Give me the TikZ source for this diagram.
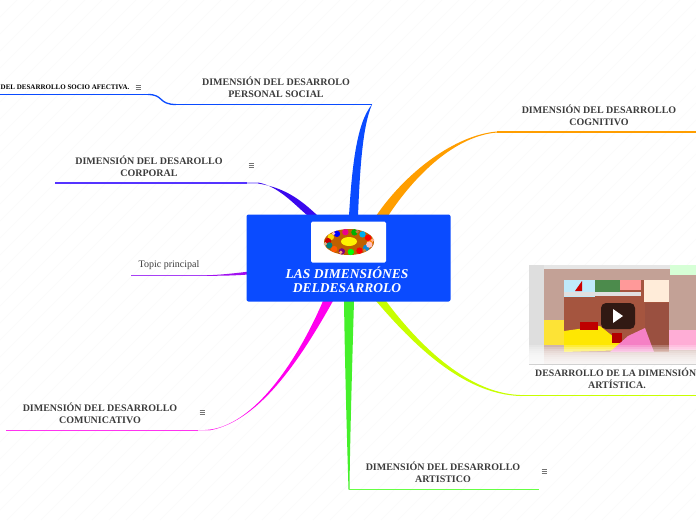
\documentclass[tikz,border=0pt]{standalone}
\usepackage{fontspec}
\setmainfont{Liberation Serif}
\usetikzlibrary{calc,shapes.geometric}
\definecolor{cblue}{HTML}{0A4BFF}
\definecolor{corange}{HTML}{FF9E00}
\definecolor{cindigo}{HTML}{3A08EE}
\definecolor{cindline}{HTML}{5533FF}
\definecolor{cpurple}{HTML}{A010F0}
\definecolor{cpurline}{HTML}{A840F5}
\definecolor{cmag}{HTML}{FF00EE}
\definecolor{cmagline}{HTML}{FF33F0}
\definecolor{cgreen}{HTML}{44F02A}
\definecolor{cgreenline}{HTML}{66FF44}
\definecolor{cyg}{HTML}{C8FF00}
\definecolor{ctext}{HTML}{3C3C3C}
\definecolor{cstripe}{HTML}{FBFBFB}
\definecolor{cwall}{HTML}{B58A7C}
\definecolor{cbrick}{HTML}{A5553F}
\definecolor{cdark}{HTML}{9A5040}
\tikzset{
  lab/.style={font=\bfseries\fontsize{10}{11.8}\selectfont,text=ctext,align=center,inner sep=0pt},
  plainlab/.style={font=\fontsize{10}{12}\selectfont,text=ctext,align=center,inner sep=0pt},
  title/.style={font=\bfseries\itshape\fontsize{13.5}{14.5}\selectfont,text=white,align=center,inner sep=0pt},
  leg/.style={line width=1.3pt},
  menuicon/.pic={\draw[black!55,line width=.55pt] (-2.5,-2) -- (2.5,-2) (-2.5,0) -- (2.5,0) (-2.5,2) -- (2.5,2);}
}
\begin{document}
\begin{tikzpicture}[x=1pt,y=-1pt]
\useasboundingbox (0,0) rectangle (696,520);
\fill[white] (0,0) rectangle (696,520);
\begin{scope}
\clip (0,0) rectangle (696,520);
\foreach \i in {0,17,...,1240}{\draw[cstripe,line width=.8pt] (\i,0) -- (\i-520,520);}
\end{scope}
% anchors
\coordinate (pUp) at (372,104.5); \coordinate (pUpL) at (176,104.5);
\coordinate (pSoc) at (148,94.5); \coordinate (pSocEnd) at (0,94.5);
\coordinate (oEnd) at (696,132); \coordinate (oKnee) at (497,132);
\coordinate (iEnd) at (55,183); \coordinate (iKnee) at (247,183); \coordinate (iTip) at (258,183);
\coordinate (tEnd) at (131,275.5); \coordinate (tKnee) at (207,275.5);
\coordinate (mEnd) at (6,430.5); \coordinate (mKnee) at (198,430.5); \coordinate (mTip) at (210,430.5);
\coordinate (gEnd) at (539,489.5); \coordinate (gKnee) at (349,489.5);
\coordinate (yEnd) at (696,395.5); \coordinate (yKnee) at (520,395.5);
% tapered branches
\fill[cblue] (349,216) .. controls (352,165) and (357,122) .. (372,104.5) .. controls (363,125) and (360,165) .. (358,216) -- cycle;
\draw[cblue,leg] (pUp) -- (pUpL);
\draw[cblue,leg] (pUpL) .. controls (158,104.5) and (164,94.5) .. (pSoc);
\draw[cblue,leg] (pSoc) -- (pSocEnd);
\fill[corange] (376,216) .. controls (406,172) and (455,135) .. (497,131.5) -- (497,132.5) .. controls (455,136) and (415,175) .. (388,216) -- cycle;
\draw[corange,leg] (oKnee) -- (oEnd);
\fill[cindigo] (308,216) .. controls (294,204) and (278,186) .. (258,182.5) -- (258,183.5) .. controls (287,188) and (303,202) .. (318,216) -- cycle;
\draw[cindline,leg] (iEnd) -- (iKnee);
\draw[cindline!35,leg] (iKnee) -- (iTip);
\fill[cpurple] (247,271.8) -- (247,274.6) .. controls (230,275.8) and (215,275.8) .. (205,275.8) -- (205,275.3) .. controls (220,275) and (235,273.2) .. cycle;
\draw[cpurline,leg] (tEnd) -- (tKnee);
\fill[cmag] (323,301) .. controls (300,355) and (255,428) .. (205,430) -- (205,431) .. controls (258,425) and (301,358) .. (333,301) -- cycle;
\draw[cmagline,leg] (mEnd) -- (mKnee);
\draw[cmagline!30,leg] (mKnee) -- (mTip);
\fill[cgreen] (344,301) .. controls (345,370) and (347,440) .. (348.5,489.5) -- (349.5,489.5) .. controls (350,440) and (352,370) .. (354,301) -- cycle;
\draw[cgreenline,leg] (gKnee) -- (gEnd);
\fill[cyg] (376,301) .. controls (412,343) and (462,394) .. (520,396) -- (520,395) .. controls (465,393) and (415,340) .. (386,301) -- cycle;
\draw[cyg,leg] (yKnee) -- (yEnd);
% centre box
\node[fill=cblue,rounded corners=2pt,minimum width=204pt,minimum height=87pt,inner sep=0pt] (centre) at (348.5,258) {};
\node[fill=white,rounded corners=1.5pt,minimum width=75pt,minimum height=41pt,inner sep=0pt] (thumb) at (348.5,242) {};
\fill[black!25!orange] (349,242) ellipse (25pt and 13pt);
\foreach \a/\c in {0/orange,25/red,50/cyan,75/green!70!black,100/magenta,125/blue,150/yellow!80!orange,175/red!80!black,200/teal,225/orange!70!red,250/violet,275/green,300/red,325/cyan!70!blue,345/pink}{
  \fill[\c] ($(349,242)+(\a:21pt and 10pt)$) circle (3.2pt);
}
\foreach \a/\c in {10/pink!70!orange,70/brown,130/pink,190/brown!60!white,250/pink!60!orange,310/brown}{
  \fill[\c] ($(349,242)+(\a:24pt and 11pt)$) circle (1.8pt);
}
\fill[yellow] (349,241.5) ellipse (8pt and 4.5pt);
\node[title] (ttl) at (347,280) {LAS DIMENSIÓNES\\DELDESARROLO};
% photo
\begin{scope}
\clip (529,265) rectangle (696,364);
\fill[black!13] (529,265) rectangle (544,364);
\fill[cwall] (544,265) rectangle (696,364);
\fill[black!12] (544,265) rectangle (696,269);
\fill[white!80!green] (670,265) rectangle (696,275);
\fill[yellow!80!orange] (544,320) rectangle (564,345);
\fill[pink!80!magenta] (669,330) rectangle (696,350);
\fill[white,opacity=.2] (544,265) rectangle (696,364);
\fill[cbrick] (564,280) rectangle (669,352);
\fill[cyan!25!white] (564,280) rectangle (595,297);
\fill[red!80!black] (575,291) -- (582,281) -- (582,291) -- cycle;
\fill[green!35!black!70!white] (595,280) rectangle (620,292);
\fill[pink!80!red] (620,280) rectangle (641,290);
\fill[black!12] (564,292) rectangle (641,296);
\fill[white!85!orange] (644,280) rectangle (669,302);
\fill[cdark] (645,303) rectangle (669,350);
\fill[yellow!90!orange] (564,331) -- (600,326) -- (630,350) -- (564,352) -- cycle;
\fill[red!75!black] (580,322) rectangle (598,330);
\fill[red!70!black] (612,333) rectangle (622,343);
\fill[magenta!50!white] (610,352) -- (628,336) -- (645,328) -- (654,352) -- cycle;
\fill[black!70!cbrick,rounded corners=5pt] (601,303) rectangle (635,329);
\fill[white] (613,309) -- (623,316) -- (613,323) -- cycle;
\foreach \i in {0,...,9}{\fill[white,opacity=.22] (529,345+\i*2) rectangle (696,364);}
\end{scope}
\draw[black!18,line width=.5pt] (529,364.5) -- (696,364.5);
% labels
\node[lab] (n1) at (276,87.5) {DIMENSIÓN DEL DESARROLO\\PERSONAL SOCIAL};
\node[lab,font=\bfseries\fontsize{7}{9}\selectfont,anchor=west,text=black] (n1a) at (0.5,87) {DEL DESARROLLO SOCIO AFECTIVA.};
\pic at (138,87) {menuicon};
\node[lab] (n2) at (599,115) {DIMENSIÓN DEL DESARROLLO\\COGNITIVO};
\node[lab] (n3) at (149,166) {DIMENSIÓN DEL DESAROLLO\\CORPORAL};
\pic at (251,165.5) {menuicon};
\node[plainlab] (n4) at (169,265) {Topic principal};
\node[lab,font=\bfseries\fontsize{9.8}{11.8}\selectfont,anchor=west] (n5) at (535,372) {DESARROLLO DE LA DIMENSIÓN};
\node[lab] (n5b) at (617,384) {ARTÍSTICA.};
\node[lab] (n6) at (100,413) {DIMENSIÓN DEL DESARROLLO\\COMUNICATIVO};
\pic at (202,412.5) {menuicon};
\node[lab] (n7) at (443,472.5) {DIMENSIÓN DEL DESARROLLO\\ARTISTICO};
\pic at (544,471.5) {menuicon};
\end{tikzpicture}
\end{document}
